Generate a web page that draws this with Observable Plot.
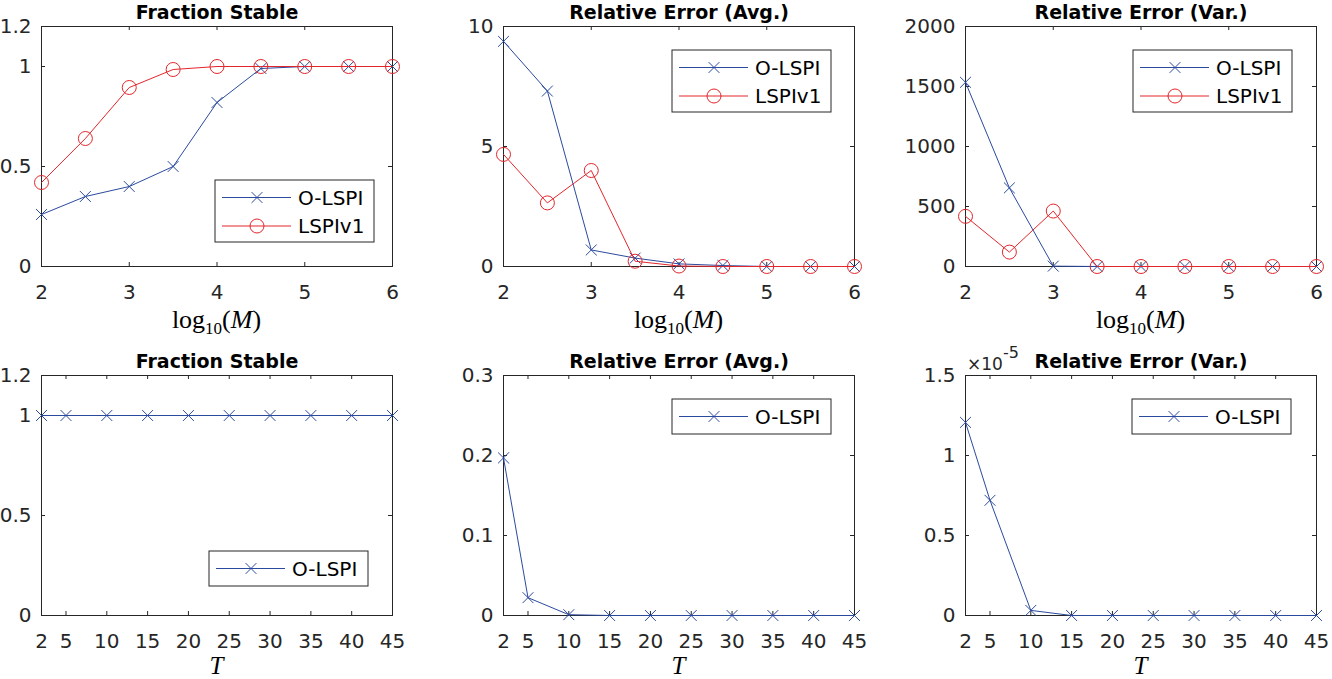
<!DOCTYPE html>
<html><head><meta charset="utf-8">
<script src="https://cdn.jsdelivr.net/npm/d3@7"></script>
<script src="https://cdn.jsdelivr.net/npm/@observablehq/plot@0.6"></script>
<style>
html,body{margin:0;padding:0;background:#fff;}
#chart{position:relative;width:1332px;height:679px;overflow:hidden;background:#fff;}
.panel{position:absolute;}
.panel svg{overflow:visible;display:block;max-width:none !important;}
</style></head><body><div id="chart"></div>
<script>
// ---- data ----
const xM = [2, 2.5, 3, 3.5, 4, 4.5, 5, 5.5, 6];
const xT = [2, 5, 10, 15, 20, 25, 30, 35, 40, 45];
const fracM_OLSPI  = [0.26, 0.35, 0.40, 0.50, 0.82, 0.99, 1, 1, 1];
const fracM_LSPIv1 = [0.42, 0.64, 0.895, 0.985, 1, 1, 1, 1, 1];
const avgM_OLSPI   = [9.38, 7.31, 0.69, 0.35, 0.11, 0.04, 0, 0, 0];
const avgM_LSPIv1  = [4.67, 2.65, 4.0, 0.22, 0.02, 0, 0, 0, 0];
const varM_OLSPI   = [1535, 655, 3, 0, 0, 0, 0, 0, 0];
const varM_LSPIv1  = [418, 120, 462, 0, 0, 0, 0, 0, 0];
const fracT_OLSPI  = [1, 1, 1, 1, 1, 1, 1, 1, 1, 1];
const avgT_OLSPI   = [0.197, 0.0223, 0.001, 0, 0, 0, 0, 0, 0, 0];
const varT_OLSPI   = [1.207e-5, 0.72e-5, 0.032e-5, 0, 0, 0, 0, 0, 0, 0];

const xTicksM = [2, 3, 4, 5, 6];
const xTicksT = [2, 5, 10, 15, 20, 25, 30, 35, 40, 45];
const yTicksFrac = [0, 0.5, 1, 1.2];
const yTicksAvgM = [0, 5, 10];
const yTicksVarM = [0, 500, 1000, 1500, 2000];
const yTicksAvgT = [0, 0.1, 0.2, 0.3];
const yTicksVarT = [0, 0.5e-5, 1e-5, 1.5e-5];

const titles = ["Fraction Stable", "Relative Error (Avg.)", "Relative Error (Var.)"];
const nameA = "O-LSPI", nameB = "LSPIv1";
const colors = {"O-LSPI": "#2a4a9e", "LSPIv1": "#e3262b"};
const symbols = {"O-LSPI": "times", "LSPIv1": "circle"};
const radii = {"O-LSPI": 5, "LSPIv1": 7};

// ---- layout ----
const FW = 351, FH = 240;
const ML = 80, MR = 20, MT = 40, MB = 80;
const colLeft = [41, 503, 965];
const rowTop = [26, 375];
const INK = "#262626";
const chart = document.getElementById("chart");
const plain = d => String(d);

function panel(o) {
  const data = o.series.flatMap(s => o.x.map((xv, i) => ({x: xv, y: s.values[i], name: s.name})));
  const marks = [
    Plot.ruleX(o.xTicks, {x: d => d, insetTop: FH - 4, stroke: INK}),
    Plot.ruleX(o.xTicks, {x: d => d, insetBottom: FH - 4, stroke: INK}),
    Plot.ruleY(o.yTicks, {y: d => d, insetRight: FW - 4, stroke: INK}),
    Plot.ruleY(o.yTicks, {y: d => d, insetLeft: FW - 4, stroke: INK}),
    Plot.frame({stroke: INK, strokeWidth: 1}),
    Plot.axisX(o.xTicks, {tickSize: 0, tickPadding: 18, label: null, fill: INK, fontSize: 20, tickFormat: plain}),
    Plot.axisY(o.yTicks, {tickSize: 0, tickPadding: 10, label: null, fill: INK, fontSize: 20, tickFormat: o.yFormat || plain})
  ];
  for (const s of o.series) {
    const d = data.filter(r => r.name === s.name);
    marks.push(Plot.line(d, {x: "x", y: "y", stroke: colors[s.name], strokeWidth: 1}));
    marks.push(Plot.dot(d, {x: "x", y: "y", symbol: symbols[s.name], r: radii[s.name], stroke: colors[s.name], fill: "none", strokeWidth: 1}));
  }
  marks.push(Plot.text([o.title], {frameAnchor: "top", dy: -8, lineAnchor: "bottom", fontSize: 19, fontWeight: "bold", fill: "#000"}));
  const svg = Plot.plot({
    width: ML + FW + MR, height: MT + FH + MB,
    marginLeft: ML, marginRight: MR, marginTop: MT, marginBottom: MB,
    x: {domain: o.xDomain}, y: {domain: o.yDomain},
    style: {fontFamily: "'DejaVu Sans', sans-serif", fontSize: "20px", background: "transparent", overflow: "visible", maxWidth: "none"},
    marks
  });
  const sel = d3.select(svg);
  // legend
  const lg = sel.append("g").attr("transform", `translate(${ML + o.legend[0]},${MT + o.legend[1]})`);
  const lh = o.series.length === 1 ? 35 : 62;
  lg.append("rect").attr("width", 159).attr("height", lh).attr("fill", "#fff").attr("stroke", INK).attr("stroke-width", 1);
  o.series.forEach((s, i) => {
    const cy = 17.5 + i * 28.5, c = colors[s.name];
    lg.append("line").attr("x1", 7).attr("x2", 76).attr("y1", cy).attr("y2", cy).attr("stroke", c).attr("stroke-width", 1);
    if (symbols[s.name] === "times") {
      lg.append("path").attr("d", `M${42-5.4},${cy-5.4}L${42+5.4},${cy+5.4}M${42-5.4},${cy+5.4}L${42+5.4},${cy-5.4}`).attr("stroke", c).attr("fill", "none");
    } else {
      lg.append("circle").attr("cx", 42).attr("cy", cy).attr("r", 7).attr("stroke", c).attr("fill", "none");
    }
    lg.append("text").attr("x", 83).attr("y", cy).attr("dy", "0.36em").attr("text-anchor", "start")
      .attr("font-size", 20).attr("fill", "#000").text(s.name);
  });
  // x label
  const xl = sel.append("text").attr("x", ML + FW / 2).attr("y", MT + FH + (o.xlabel === "M" ? 62 : 59)).attr("text-anchor", "middle")
    .attr("font-family", "'Liberation Serif', serif").attr("font-size", o.xlabel === "M" ? 26 : 25).attr("fill", "#000");
  if (o.xlabel === "M") {
    xl.append("tspan").text("log");
    xl.append("tspan").attr("font-size", 17).attr("dy", 6).text("10");
    xl.append("tspan").attr("dy", -6).text("(");
    xl.append("tspan").attr("font-style", "italic").text("M");
    xl.append("tspan").text(")");
  } else {
    xl.append("tspan").attr("font-style", "italic").text("T");
  }
  if (o.exponent) {
    const ex = sel.append("text").attr("x", ML + 2).attr("y", MT - 5).attr("text-anchor", "start").attr("fill", INK).attr("font-size", 17);
    ex.append("tspan").text("×10");
    ex.append("tspan").attr("font-size", 16).attr("dy", -12).text(o.exponent);
  }
  const div = document.createElement("div");
  div.className = "panel";
  div.style.left = (colLeft[o.col] - ML) + "px";
  div.style.top = (rowTop[o.row] - MT) + "px";
  div.style.width = (ML + FW + MR) + "px";
  div.appendChild(svg);
  chart.appendChild(div);
}

panel({col: 0, row: 0, title: titles[0], x: xM, xTicks: xTicksM, xDomain: [2, 6], yDomain: [0, 1.2], yTicks: yTicksFrac,
  series: [{name: nameA, values: fracM_OLSPI}, {name: nameB, values: fracM_LSPIv1}], legend: [174, 154], xlabel: "M"});
panel({col: 1, row: 0, title: titles[1], x: xM, xTicks: xTicksM, xDomain: [2, 6], yDomain: [0, 10], yTicks: yTicksAvgM,
  series: [{name: nameA, values: avgM_OLSPI}, {name: nameB, values: avgM_LSPIv1}], legend: [169, 24], xlabel: "M"});
panel({col: 2, row: 0, title: titles[2], x: xM, xTicks: xTicksM, xDomain: [2, 6], yDomain: [0, 2000], yTicks: yTicksVarM,
  series: [{name: nameA, values: varM_OLSPI}, {name: nameB, values: varM_LSPIv1}], legend: [168, 24], xlabel: "M"});
panel({col: 0, row: 1, title: titles[0], x: xT, xTicks: xTicksT, xDomain: [2, 45], yDomain: [0, 1.2], yTicks: yTicksFrac,
  series: [{name: nameA, values: fracT_OLSPI}], legend: [168, 176], xlabel: "T"});
panel({col: 1, row: 1, title: titles[1], x: xT, xTicks: xTicksT, xDomain: [2, 45], yDomain: [0, 0.3], yTicks: yTicksAvgT,
  series: [{name: nameA, values: avgT_OLSPI}], legend: [169, 24], xlabel: "T"});
panel({col: 2, row: 1, title: titles[2], x: xT, xTicks: xTicksT, xDomain: [2, 45], yDomain: [0, 1.5e-5], yTicks: yTicksVarT,
  yFormat: d => String(+(d * 1e5).toFixed(2)),
  series: [{name: nameA, values: varT_OLSPI}], legend: [167, 24], xlabel: "T", exponent: "-5"});
</script></body></html>
